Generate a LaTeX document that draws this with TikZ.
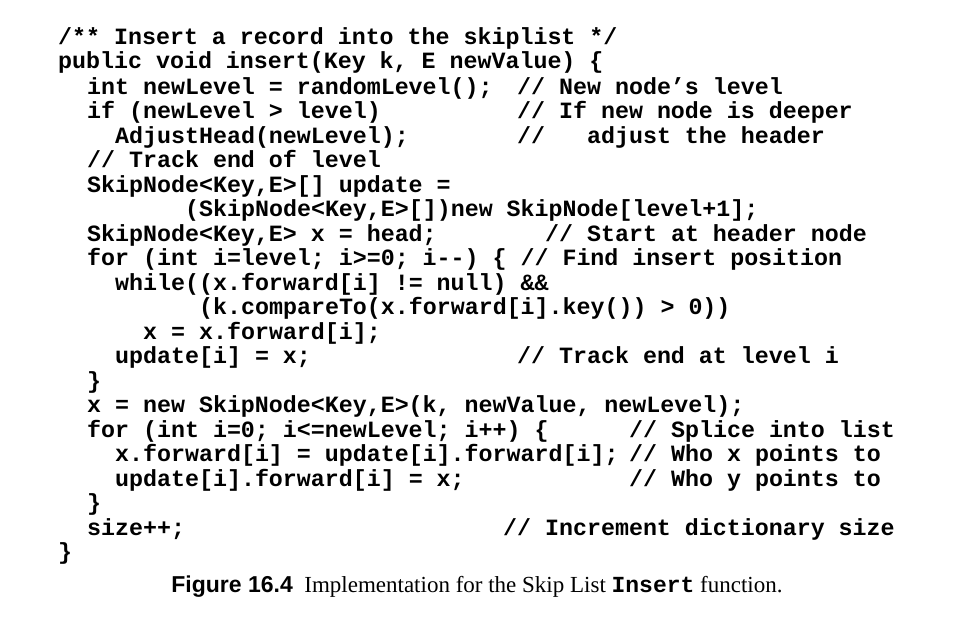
\documentclass[tikz,border=0pt]{standalone}
\usepackage{fontspec}
\setmainfont{Liberation Serif}
\setmonofont{Liberation Mono}
\newfontfamily\capsans{Liberation Sans}
\begin{document}
\begin{tikzpicture}[x=1pt,y=-1pt,
  code/.style={anchor=base west,inner sep=0pt,font=\fontsize{23.3}{24}\ttfamily\bfseries}]
\useasboundingbox (0,0) rectangle (956,618);
\begin{scope}[yshift=-7pt]
\node[code] (l1) at (58,38) {/** Insert a record into the skiplist */};
\node[code] (l2) at (58,62) {public void insert(Key k, E newValue) \{};
\node[code] (l3) at (87,87) {int newLevel = randomLevel();};
\node[code] (c3) at (517,87) {// New node’s level};
\node[code] (l4) at (87,111) {if (newLevel > level)};
\node[code] (c4) at (517,111) {// If new node is deeper};
\node[code] (l5) at (115,136) {AdjustHead(newLevel);};
\node[code] (c5) at (517,136) {//\ \ \ adjust the header};
\node[code] (l6) at (87,160) {// Track end of level};
\node[code] (l7) at (87,185) {SkipNode<Key,E>[] update =};
\node[code] (l8) at (185,209) {(SkipNode<Key,E>[])new SkipNode[level+1];};
\node[code] (l9) at (87,234) {SkipNode<Key,E> x = head;};
\node[code] (c9) at (545,234) {// Start at header node};
\node[code] (l10) at (87,258) {for (int i=level; i>=0; i-{}-) \{ // Find insert position};
\node[code] (l11) at (115,283) {while((x.forward[i] != null) \&\&};
\node[code] (l12) at (199,307) {(k.compareTo(x.forward[i].key()) > 0))};
\node[code] (l13) at (143,332) {x = x.forward[i];};
\node[code] (l14) at (115,356) {update[i] = x;};
\node[code] (c14) at (517,356) {// Track end at level i};
\node[code] (l15) at (87,381) {\}};
\node[code] (l16) at (87,405) {x = new SkipNode<Key,E>(k, newValue, newLevel);};
\node[code] (l17) at (87,430) {for (int i=0; i<=newLevel; i++) \{};
\node[code] (c17) at (629,430) {// Splice into list};
\node[code] (l18) at (115,454) {x.forward[i] = update[i].forward[i];};
\node[code] (c18) at (629,454) {// Who x points to};
\node[code] (l19) at (115,479) {update[i].forward[i] = x;};
\node[code] (c19) at (629,479) {// Who y points to};
\node[code] (l20) at (87,503) {\}};
\node[code] (l21) at (87,528) {size++;};
\node[code] (c21) at (503,528) {// Increment dictionary size};
\node[code] (l22) at (58,552) {\}};
\end{scope}
\node[anchor=base,inner sep=0pt,font=\fontsize{23}{26}\selectfont] (cap) at (477,592)
  {{\capsans\bfseries Figure 16.4}\ \ Implementation for the Skip List {\ttfamily\bfseries Insert} function.};
\end{tikzpicture}
\end{document}
